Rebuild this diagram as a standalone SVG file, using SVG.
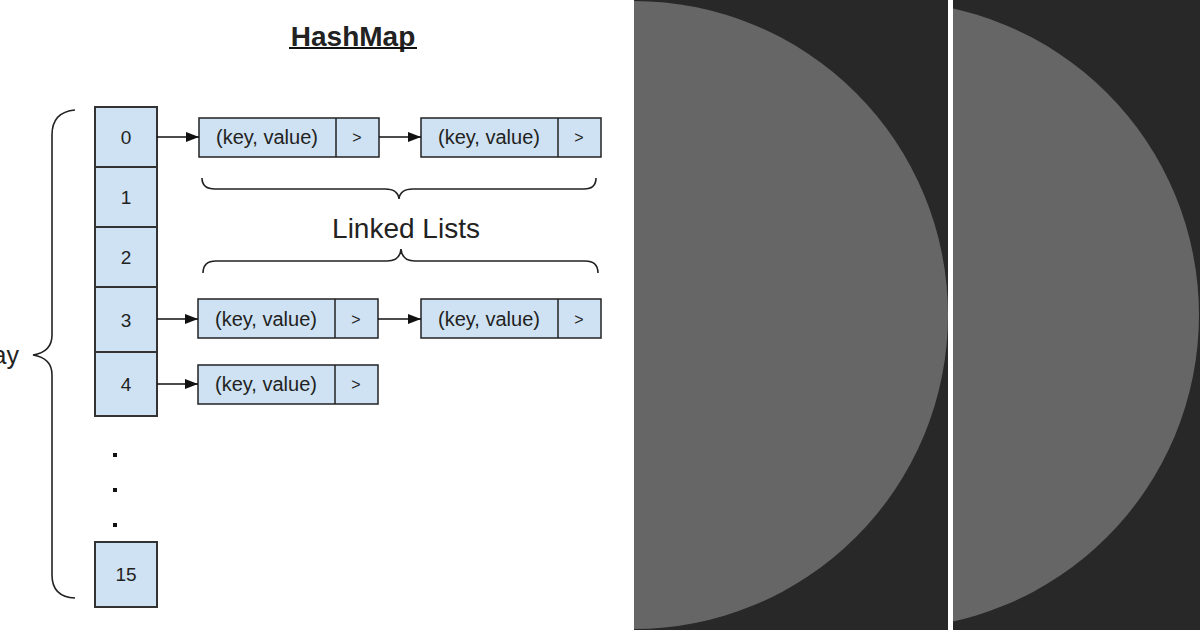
<svg xmlns="http://www.w3.org/2000/svg" width="1200" height="630" viewBox="0 0 1200 630">
<style>
.cell{fill:#cfe2f3;stroke:#333;stroke-width:2}
.node{fill:#cfe2f3;stroke:#222;stroke-width:1.5}
.t{font-family:"Liberation Sans",Arial,sans-serif;fill:#222;text-anchor:middle;dominant-baseline:central}
.num{font-size:19px}
.kv{font-size:20px}
.ptr{font-size:16px}
.conn{stroke:#111;stroke-width:1.5;fill:none;marker-end:url(#ah)}
.brace{stroke:#222;stroke-width:1.6;fill:none}
</style>
<defs>
<marker id="ah" markerWidth="13" markerHeight="10" refX="13" refY="5" orient="auto" markerUnits="userSpaceOnUse">
<path d="M0,0 L13,5 L0,10 Z" fill="#111"/>
</marker>
<clipPath id="p1"><rect x="634" y="0" width="314" height="630"/></clipPath>
<clipPath id="p2"><rect x="953" y="0" width="247" height="630"/></clipPath>
</defs>
<rect x="0" y="0" width="1200" height="630" fill="#ffffff"/>
<g id="panels">
<rect x="634" y="0" width="314" height="630" fill="#282828"/>
<rect x="953" y="0" width="247" height="630" fill="#282828"/>
<circle cx="634" cy="315" r="314" fill="#666666" clip-path="url(#p1)"/>
<circle cx="885" cy="315" r="314" fill="#666666" clip-path="url(#p2)"/>
</g>
<g id="title">
<text x="353" y="36" class="t" style="font-size:28px;font-weight:bold">HashMap</text>
<line x1="289" y1="48" x2="417" y2="48" stroke="#111" stroke-width="2.2"/>
</g>
<g id="array-label">
<text x="19" y="355" style="font-family:'Liberation Sans',Arial,sans-serif;font-size:25px;fill:#222;text-anchor:end;dominant-baseline:central">Array</text>
<path class="brace" d="M75,110 Q52,112 52,135 L52,335 Q52,352 33,355 Q52,358 52,375 L52,575 Q52,597 75,598"/>
</g>
<g id="cell0"><rect class="cell" x="95" y="107" width="62" height="60"/><text class="t num" x="126" y="137">0</text></g>
<g id="cell1"><rect class="cell" x="95" y="167" width="62" height="60"/><text class="t num" x="126" y="197">1</text></g>
<g id="cell2"><rect class="cell" x="95" y="227" width="62" height="60"/><text class="t num" x="126" y="257">2</text></g>
<g id="cell3"><rect class="cell" x="95" y="287" width="62" height="65"/><text class="t num" x="126" y="320">3</text></g>
<g id="cell4"><rect class="cell" x="95" y="352" width="62" height="64"/><text class="t num" x="126" y="384">4</text></g>
<g id="dots">
<rect x="113" y="453" width="4" height="4" fill="#111"/>
<rect x="113" y="488" width="4" height="4" fill="#111"/>
<rect x="113" y="523" width="4" height="4" fill="#111"/>
</g>
<g id="cell15"><rect class="cell" x="95" y="542" width="62" height="65"/><text class="t num" x="126" y="574">15</text></g>
<g id="node0a"><rect class="node" x="199" y="118" width="180" height="39"/><line x1="336" y1="118" x2="336" y2="157" stroke="#222" stroke-width="1.5"/><text class="t kv" x="267" y="137">(key, value)</text><text class="t ptr" x="357" y="137">&gt;</text></g>
<g id="node0b"><rect class="node" x="421" y="118" width="180" height="39"/><line x1="558" y1="118" x2="558" y2="157" stroke="#222" stroke-width="1.5"/><text class="t kv" x="489" y="137">(key, value)</text><text class="t ptr" x="579" y="137">&gt;</text></g>
<g id="node3a"><rect class="node" x="198" y="299" width="180" height="39"/><line x1="335" y1="299" x2="335" y2="338" stroke="#222" stroke-width="1.5"/><text class="t kv" x="266" y="319">(key, value)</text><text class="t ptr" x="356" y="319">&gt;</text></g>
<g id="node3b"><rect class="node" x="421" y="299" width="180" height="39"/><line x1="558" y1="299" x2="558" y2="338" stroke="#222" stroke-width="1.5"/><text class="t kv" x="489" y="319">(key, value)</text><text class="t ptr" x="579" y="319">&gt;</text></g>
<g id="node4a"><rect class="node" x="198" y="365" width="180" height="39"/><line x1="335" y1="365" x2="335" y2="404" stroke="#222" stroke-width="1.5"/><text class="t kv" x="266" y="384">(key, value)</text><text class="t ptr" x="356" y="384">&gt;</text></g>
<g id="linked-lists">
<path class="brace" d="M202,178 Q202,189 215,189 L385,189 Q398,189 399,199 Q400,189 413,189 L584,189 Q596,189 596,178"/>
<text class="t" x="406" y="228" style="font-size:28px">Linked Lists</text>
<path class="brace" d="M203,273 Q203,261 216,261 L387,261 Q400,261 401,249 Q402,261 415,261 L585,261 Q598,261 598,273"/>
</g>
<g id="connectors">
<line class="conn" x1="157" y1="137" x2="199" y2="137"/>
<line class="conn" x1="379" y1="137" x2="421" y2="137"/>
<line class="conn" x1="157" y1="319" x2="198" y2="319"/>
<line class="conn" x1="378" y1="319" x2="421" y2="319"/>
<line class="conn" x1="157" y1="384" x2="198" y2="384"/>
</g>
</svg>
